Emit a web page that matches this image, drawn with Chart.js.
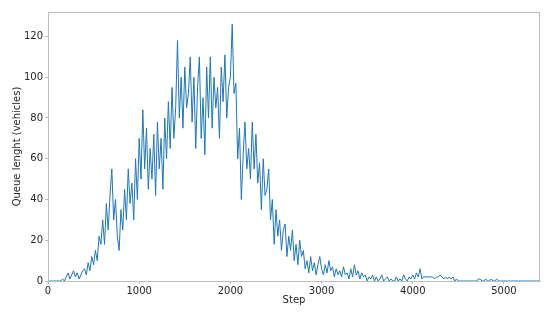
<!DOCTYPE html>
<html>
<head>
<meta charset="utf-8">
<script src="https://cdn.jsdelivr.net/npm/chart.js@4"></script>
<style>
  html, body { margin: 0; padding: 0; background: #fff; }
  #wrap { width: 550px; height: 314px; }
</style>
</head>
<body>
<div id="wrap"><canvas id="chart" width="550" height="314"></canvas></div>
<script>
const STEP = 20;
const queue = [
  0,0,0,0,0,0,0,0,1,0,
  2,4,1,3,5,2,4,1,3,5,
  6,3,9,5,12,8,15,10,22,18,
  30,18,38,25,42,55,30,40,22,15,
  35,25,45,30,55,38,48,30,60,40,
  70,50,84,55,75,45,65,50,72,42,
  78,55,70,45,80,60,88,65,95,70,
  85,118,80,100,75,105,85,92,110,78,
  100,65,95,110,70,90,62,105,80,110,
  75,100,85,95,70,105,88,111,80,95,
  100,126,92,97,60,75,40,62,78,55,
  65,50,78,55,72,48,58,35,60,42,
  45,55,30,40,18,35,22,30,15,25,
  28,12,22,15,25,10,18,8,20,12,
  15,6,10,4,12,5,9,3,8,12,
  6,3,8,4,10,5,7,2,6,3,
  5,2,7,3,4,1,6,2,8,3,
  5,1,4,2,3,0,2,1,3,0,
  2,0,1,3,0,1,2,0,1,0,
  0,2,0,1,0,3,1,0,2,1,
  3,1,4,2,6,1,2,2,2,2,
  2,2,1,2,2,3,2,1,2,1,
  2,1,2,0,1,0,0,0,0,0,
  0,0,0,0,0,0,1,1,0,0,
  1,0,0,1,0,0,1,0,0,0,
  0,0,0,0,0,0,0,0,0,0,
  0,0,0,0,0,0,0,0,0,0,
  1
];
const steps = queue.map((v, i) => i * STEP);

const xTicks = [0, 1000, 2000, 3000, 4000, 5000];
const yTicks = [0, 20, 40, 60, 80, 100, 120];

const spineColor = '#bdbdbd';
const textColor = '#262626';
const font = { family: 'DejaVu Sans', size: 10 };

// top and right spines
const frame = {
  id: 'frame',
  afterDraw(chart) {
    const a = chart.chartArea, ctx = chart.ctx;
    ctx.save();
    ctx.strokeStyle = spineColor;
    ctx.lineWidth = 1;
    ctx.strokeRect(a.left + 0.5, a.top + 0.5, a.right - a.left - 1, a.bottom - a.top);
    ctx.restore();
  }
};

new Chart(document.getElementById('chart'), {
  type: 'line',
  data: {
    datasets: [{
      data: steps.map((s, i) => ({ x: s, y: queue[i] })),
      borderColor: '#1f77b4',
      borderWidth: 1,
      pointRadius: 0,
      tension: 0,
      fill: false
    }]
  },
  options: {
    responsive: false,
    animation: false,
    layout: { padding: { top: 12, right: 10, left: 0, bottom: 8 } },
    plugins: { legend: { display: false }, tooltip: { enabled: false } },
    scales: {
      x: {
        type: 'linear',
        min: 0,
        max: 5395,
        afterBuildTicks: s => { s.ticks = xTicks.map(v => ({ value: v })); },
        afterFit: s => { s.height = 25; },
        grid: { drawOnChartArea: false, tickLength: 3, color: spineColor },
        border: { color: spineColor },
        ticks: { color: textColor, font: font, padding: 1, maxRotation: 0, callback: v => String(v) },
        title: { display: true, text: 'Step', color: textColor, font: font, padding: { top: 0, bottom: 0 } }
      },
      y: {
        min: 0,
        max: 132,
        afterBuildTicks: s => { s.ticks = yTicks.map(v => ({ value: v })); },
        afterFit: s => { s.width = 48; },
        grid: { drawOnChartArea: false, tickLength: 3, color: spineColor },
        border: { color: spineColor },
        ticks: { color: textColor, font: font, padding: 2 },
        title: { display: true, text: 'Queue lenght (vehicles)', color: textColor, font: font, padding: { top: 11, bottom: 0 } }
      }
    }
  },
  plugins: [frame]
});
</script>
</body>
</html>
